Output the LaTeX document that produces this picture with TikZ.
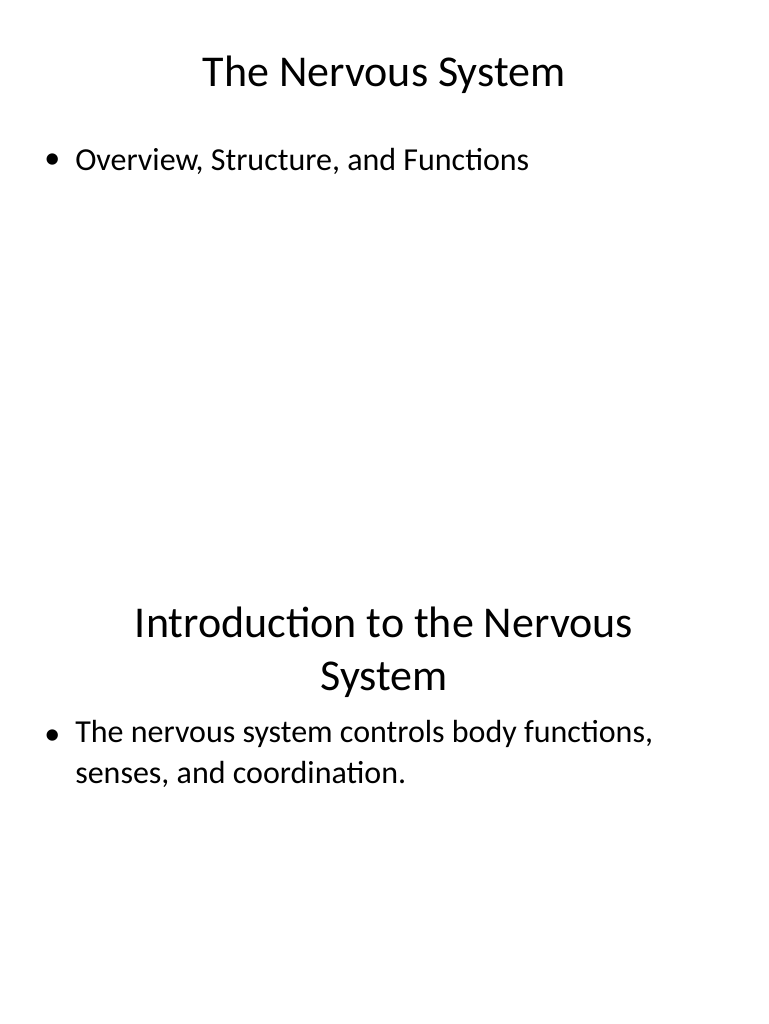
\documentclass[tikz,border=0pt]{standalone}
\usepackage{fontspec}
\setmainfont{Carlito}
\begin{document}
\begin{tikzpicture}[x=0.75pt,y=-0.75pt,
  title/.style={font=\fontsize{33}{40}\selectfont,align=center,inner sep=0},
  body/.style={font=\fontsize{24}{31}\selectfont,anchor=west,align=left,inner sep=0}]
\useasboundingbox[fill=white] (0,0) rectangle (768,1024);
\node[title] (t1) at (384,75) {The Nervous System};
\node[body] (b1) at (44,161) {•};
\node[body] (l1) at (75,161) {Overview, Structure, and Functions};
\node[title] (t2) at (384,652) {Introduction to the Nervous\\System};
\node[body] (b2) at (44,737) {•};
\node[body,anchor=north west] (l2) at (75,720) {The nervous system controls body functions,\\senses, and coordination.};
\end{tikzpicture}
\end{document}
